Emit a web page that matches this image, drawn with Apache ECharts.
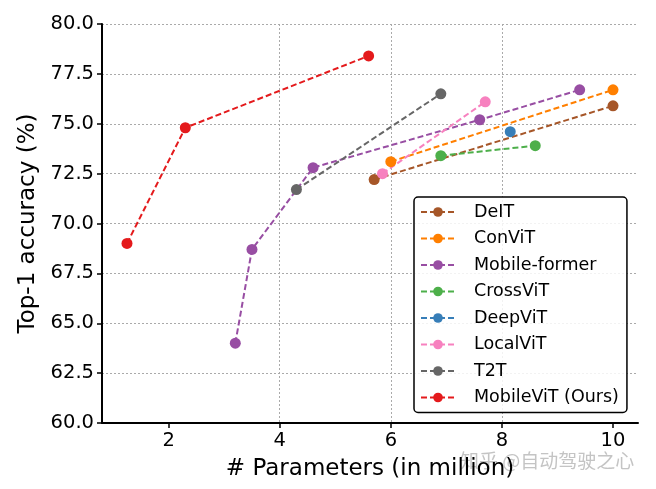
<!DOCTYPE html>
<html>
<head>
<meta charset="utf-8">
<script src="https://cdn.jsdelivr.net/npm/echarts@6/dist/echarts.min.js"></script>
<style>
  html, body { margin: 0; padding: 0; background: #fff; }
  #main { width: 656px; height: 489px; }
</style>
</head>
<body>
<div id="main"></div>
<script>
// 数据 (参数量 M, top-1 %)
var deitX = [5.7, 10.0];
var deitY = [72.2, 75.9];
var convitX = [6.0, 10.0];
var convitY = [73.1, 76.7];
var mobileFormerX = [3.2, 3.5, 4.6, 7.6, 9.4];
var mobileFormerY = [64.0, 68.7, 72.8, 75.2, 76.7];
var crossvitX = [6.9, 8.6];
var crossvitY = [73.4, 73.9];
var deepvitX = [8.15];
var deepvitY = [74.6];
var localvitX = [5.85, 7.7];
var localvitY = [72.5, 76.1];
var t2tX = [4.3, 6.9];
var t2tY = [71.7, 76.5];
var mobilevitX = [1.25, 2.3, 5.6];
var mobilevitY = [69.0, 74.8, 78.4];

var xTicks = [2, 4, 6, 8, 10];

var names = ['DeIT', 'ConViT', 'Mobile-former', 'CrossViT', 'DeepViT', 'LocalViT', 'T2T', 'MobileViT (Ours)'];
var colors = ['#a65628', '#ff7f00', '#984ea3', '#4daf4a', '#377eb8', '#f781bf', '#666666', '#e41a1c'];
var xs = [deitX, convitX, mobileFormerX, crossvitX, deepvitX, localvitX, t2tX, mobilevitX];
var ys = [deitY, convitY, mobileFormerY, crossvitY, deepvitY, localvitY, t2tY, mobilevitY];

function zip(a, b) {
	var out = [];
	for (var i = 0; i < a.length; i++) out.push([a[i], b[i]]);
	return out;
}

var series = [];
for (var i = 0; i < names.length; i++) {
	series.push({
		name: names[i],
		type: 'line',
		data: zip(xs[i], ys[i]),
		symbol: 'circle',
		symbolSize: 11,
		color: colors[i],
		lineStyle: { width: 2, type: [6, 3], color: colors[i] },
		itemStyle: { color: colors[i] },
		emphasis: { disabled: true },
		animation: false
	});
}

var font = 'DejaVu Sans';
var gridLine = { show: true, lineStyle: { color: '#aaa', width: 1, type: [2, 2] } };
var myChart = echarts.init(document.getElementById('main'));
var option = {
	backgroundColor: '#fff',
	animation: false,
	grid: { left: 102, top: 24, width: 536, height: 399 },
	xAxis: {
		type: 'value',
		min: 0.8,
		max: 10.45,
		name: '# Parameters (in million)',
		nameLocation: 'middle',
		nameGap: 35,
		nameTextStyle: { fontFamily: font, fontSize: 23, color: '#000' },
		axisLine: { lineStyle: { color: '#000', width: 2 } },
		axisTick: { show: true, length: 5, lineStyle: { color: '#000', width: 1.5 }, customValues: xTicks },
		axisLabel: { fontFamily: font, fontSize: 19.5, color: '#000', margin: 8, customValues: xTicks },
		splitLine: { show: true, showMinLine: false, showMaxLine: false, lineStyle: gridLine.lineStyle }
	},
	yAxis: {
		type: 'value',
		min: 60,
		max: 80,
		interval: 2.5,
		name: 'Top-1 accuracy (%)',
		nameLocation: 'middle',
		nameGap: 58,
		nameTextStyle: { fontFamily: font, fontSize: 23, color: '#000' },
		axisLine: { show: true, lineStyle: { color: '#000', width: 2 } },
		axisTick: { show: true, length: 5, lineStyle: { color: '#000', width: 1.5 } },
		axisLabel: {
			fontFamily: font, fontSize: 19.5, color: '#000', margin: 8,
			formatter: function (v) { return v.toFixed(1); }
		},
		splitLine: gridLine
	},
	legend: {
		data: names,
		orient: 'vertical',
		left: 414,
		top: 197,
		itemWidth: 34,
		itemHeight: 12,
		itemGap: 8.5,
		padding: [6, 8, 6, 6],
		borderColor: '#000',
		borderWidth: 1.5,
		borderRadius: 4,
		backgroundColor: 'rgba(255,255,255,0.85)',
		textStyle: { fontFamily: font, fontSize: 17.5, color: '#000', lineHeight: 17, padding: [0, 0, 0, 14] }
	},
	graphic: [{
		type: 'text',
		left: 460,
		top: 451,
		style: {
			text: '知乎 @自动驾驶之心',
			font: '19px "Noto Sans CJK SC"',
			fill: '#c4c4c4'
		}
	}],
	series: series
};
myChart.setOption(option);
</script>
</body>
</html>
